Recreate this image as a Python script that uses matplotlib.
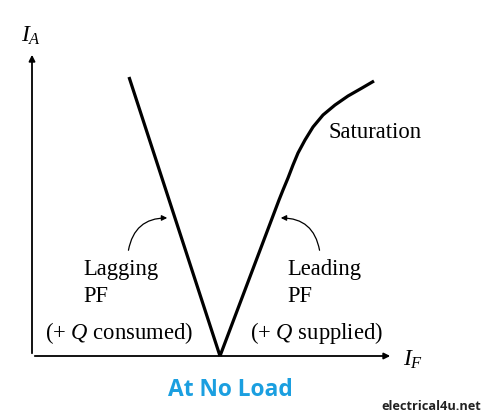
import matplotlib
matplotlib.use("Agg")
import matplotlib.pyplot as plt

# V-curve of a synchronous motor at no load (units: rough pixel scale of I_F / I_A)
lag_if = [97, 188]
lag_ia = [279, 0]

lead_if = [188, 247, 251, 256, 261, 266, 273, 281, 291, 303, 316, 330, 342]
lead_ia = [0, 156, 166, 178, 191, 203, 216, 229, 241, 251, 260, 268, 275]

plt.rcParams["font.family"] = ["Liberation Serif", "DejaVu Serif"]
plt.rcParams["mathtext.fontset"] = "custom"
plt.rcParams["mathtext.rm"] = "Liberation Serif"
plt.rcParams["mathtext.it"] = "Liberation Serif:italic"

fig = plt.figure(figsize=(4.95, 4.2), dpi=100)
ax = fig.add_axes([0, 0, 1, 1])
ax.set_xlim(-32, 463)
ax.set_ylim(-64, 356)
ax.axis("off")

# axes with arrows
ax.annotate("", xy=(0, 304), xytext=(0, 0),
            arrowprops=dict(arrowstyle="-|>", lw=1.3, color="black", mutation_scale=9))
ax.annotate("", xy=(361, 0), xytext=(0, 0),
            arrowprops=dict(arrowstyle="-|>", lw=1.3, color="black", mutation_scale=9))

ax.plot(lag_if, lag_ia, color="black", lw=2.3, solid_capstyle="butt")
ax.plot(lead_if, lead_ia, color="black", lw=2.3, solid_capstyle="butt",
        solid_joinstyle="round")

# curved pointers
ax.annotate("", xy=(138, 138), xytext=(96, 103),
            arrowprops=dict(arrowstyle="-|>", lw=0.9, color="black", mutation_scale=8,
                            connectionstyle="arc3,rad=-0.45"))
ax.annotate("", xy=(246, 138), xytext=(288, 103),
            arrowprops=dict(arrowstyle="-|>", lw=0.9, color="black", mutation_scale=8,
                            connectionstyle="arc3,rad=0.45"))

fs = 16.3
ax.text(51, 86, "Lagging", fontsize=fs, va="center", ha="left")
ax.text(51, 59, "PF", fontsize=fs, va="center", ha="left")
ax.text(13, 23, "(+ $Q$ consumed)", fontsize=fs, va="center", ha="left")
ax.text(255, 86, "Leading", fontsize=fs, va="center", ha="left")
ax.text(255, 59, "PF", fontsize=fs, va="center", ha="left")
ax.text(218, 23, "(+ $Q$ supplied)", fontsize=fs, va="center", ha="left")
ax.text(296, 224, "Saturation", fontsize=fs, va="center", ha="left")

ax.text(-1, 320, "$I_A$", fontsize=17, va="center", ha="center")
ax.text(381, -4, "$I_F$", fontsize=17, va="center", ha="center")

ax.text(198, -34, "At No Load", fontsize=16.4, fontweight="bold", color="#1b9fe0",
        va="center", ha="center", family="Open Sans")
ax.text(399, -51, "electrical4u.net", fontsize=9.2, fontweight="bold", color="#222222",
        va="center", ha="center", family="Open Sans")

fig.savefig("out.png", dpi=100)
